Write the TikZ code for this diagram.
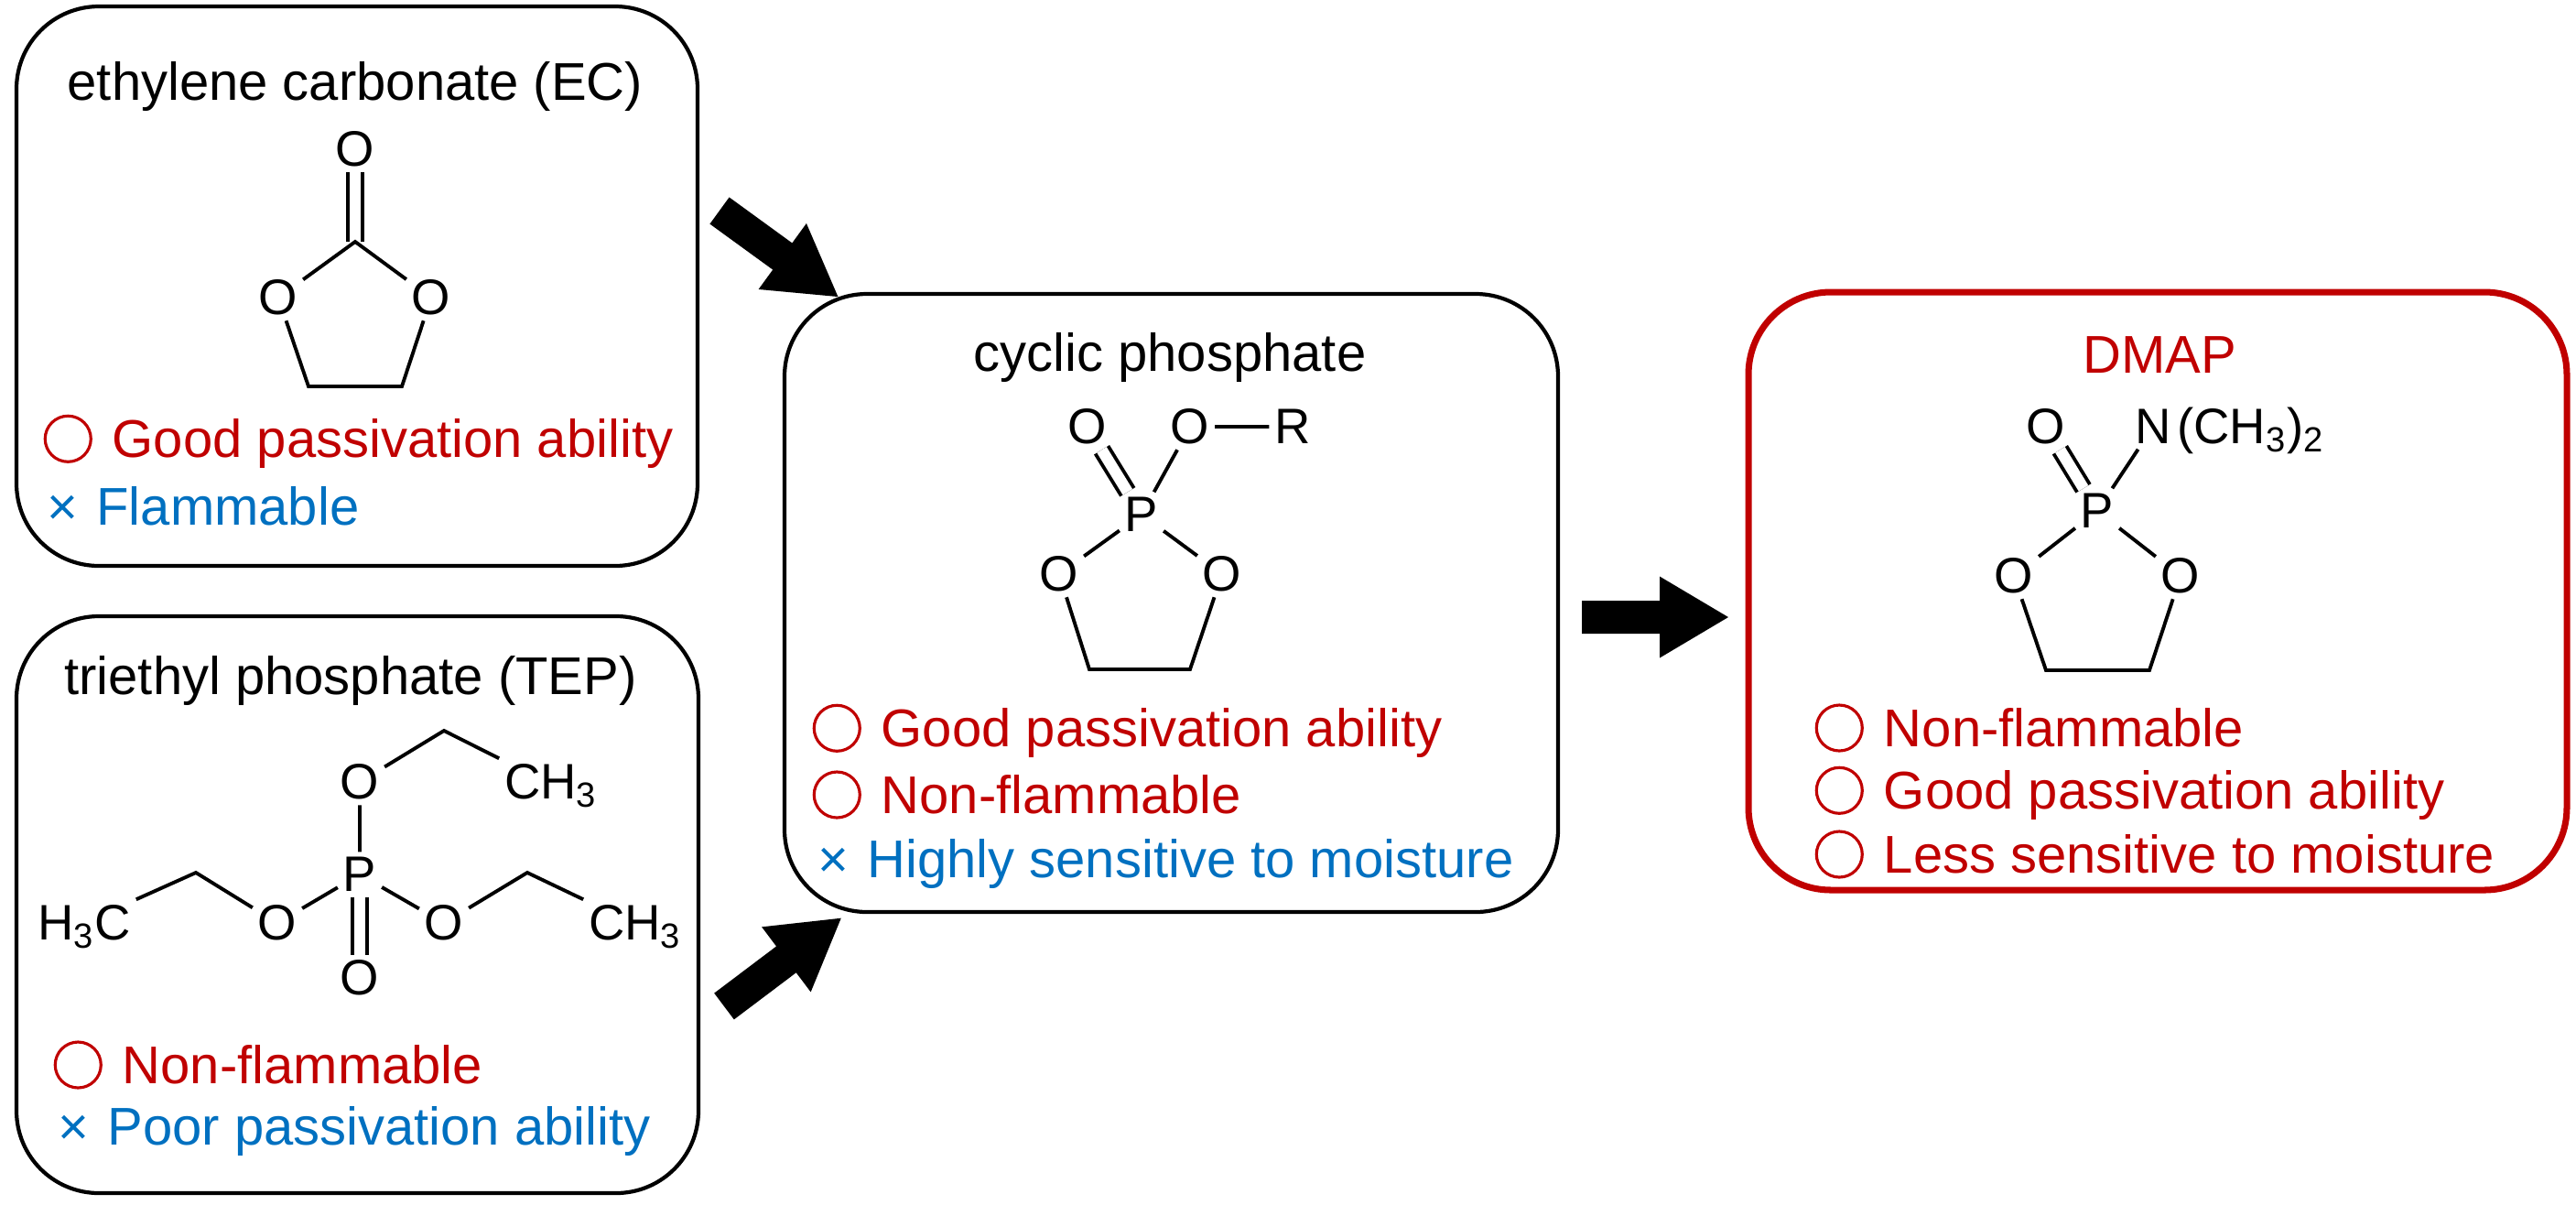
\documentclass[tikz,border=0pt]{standalone}
\usepackage{fontspec}
\setmainfont{Liberation Sans}
\usepackage{tikz}
\definecolor{okred}{RGB}{192,0,0}
\definecolor{ngblue}{RGB}{0,112,192}
\newcommand{\okmark}{\tikz[baseline={(0,-0.2)}]\draw[okred,line width=0.9pt] (0,0) circle (0.25);\hspace{0.22cm}}
\newcommand{\ngmark}{×\hspace{0.2cm}}
\newcommand{\sub}[1]{\textsubscript{#1}}

\begin{document}
\begin{tikzpicture}[
    box/.style={draw, line width=1.2pt, rounded corners=0.9cm},
    atom/.style={inner sep=1.5pt, font=\fontsize{15.5}{18}\selectfont},
    title/.style={font=\fontsize{16.5}{20}\selectfont},
    good/.style={anchor=west, text=okred, inner sep=0pt, font=\fontsize{16.5}{20}\selectfont},
    bad/.style={anchor=west, text=ngblue, inner sep=0pt, font=\fontsize{16.5}{20}\selectfont},
    bond/.style={line width=1.1pt},
    dbl/.style={double, double distance=3.5pt, line width=1.1pt},
    fat arrow/.pic={\fill (0,-0.18) -- (0.85,-0.18) -- (0.85,-0.445) -- (1.6,0)
      -- (0.85,0.445) -- (0.85,0.18) -- (0,0.18) -- cycle;}]
  \useasboundingbox (0,0) rectangle (28.14,-13.15);
  % boxes
  \draw[box] (0.18,-0.07) rectangle (7.62,-6.18);
  \draw[box] (0.18,-6.73) rectangle (7.63,-13.03);
  \draw[box] (8.57,-3.21) rectangle (17.02,-9.96);
  \draw[box, draw=okred, line width=2pt] (19.10,-3.19) rectangle (28.04,-9.72);
  % ethylene carbonate
  \node[title] (ect) at (3.88,-0.94) {ethylene carbonate (EC)};
  \node[atom] (eco) at (3.88,-1.63) {O};
  \coordinate (ecc) at (3.88,-2.64);
  \node[atom] (ecl) at (3.04,-3.25) {O};
  \node[atom] (ecr) at (4.71,-3.25) {O};
  \coordinate (ecbl) at (3.37,-4.22);
  \coordinate (ecbr) at (4.39,-4.22);
  \draw[dbl] (eco) -- (ecc);
  \draw[bond] (ecl) -- (ecc) -- (ecr);
  \draw[bond] (ecl) -- (ecbl) -- (ecbr) -- (ecr);
  \node[good] (ecg) at (0.47,-4.82) {\okmark Good passivation ability};
  \node[bad] (ecb) at (0.51,-5.53) {\ngmark Flammable};
  % triethyl phosphate
  \node[title] (tept) at (3.83,-7.43) {triethyl phosphate (TEP)};
  \node[atom] (tepp) at (3.93,-9.55) {P};
  \node[atom] (tepot) at (3.93,-8.54) {O};
  \coordinate (tepvt) at (4.85,-7.98);
  \node[atom] (tepct) at (6.02,-8.58) {CH\sub{3}};
  \node[atom] (tepol) at (3.03,-10.08) {O};
  \coordinate (tepvl) at (2.14,-9.53);
  \node[atom] (tepcl) at (0.92,-10.12) {H\sub{3}C};
  \node[atom] (tepor) at (4.85,-10.08) {O};
  \coordinate (tepvr) at (5.76,-9.53);
  \node[atom] (tepcr) at (6.94,-10.12) {CH\sub{3}};
  \node[atom] (tepob) at (3.93,-10.68) {O};
  \draw[bond] (tepp) -- (tepot) -- (tepvt) -- (tepct.north west);
  \draw[bond] (tepp) -- (tepol) -- (tepvl) -- (tepcl.north east);
  \draw[bond] (tepp) -- (tepor) -- (tepvr) -- (tepcr.north west);
  \draw[dbl] (tepp) -- (tepob);
  \node[good] (tepg) at (0.58,-11.63) {\okmark Non-flammable};
  \node[bad] (tepb) at (0.63,-12.35) {\ngmark Poor passivation ability};
  % cyclic phosphate
  \node[title] (cpt) at (12.78,-3.90) {cyclic phosphate};
  \node[atom] (cpo) at (11.88,-4.66) {O};
  \node[atom] (cpe) at (13.00,-4.66) {O};
  \node[atom] (cpr) at (14.12,-4.66) {R};
  \node[atom] (cpp) at (12.47,-5.62) {P};
  \node[atom] (cpl) at (11.57,-6.27) {O};
  \node[atom] (cpri) at (13.35,-6.27) {O};
  \coordinate (cpbl) at (11.90,-7.31);
  \coordinate (cpbr) at (13.00,-7.31);
  \draw[dbl] (cpp) -- (cpo);
  \draw[bond] (cpp) -- (cpe) -- (cpr);
  \draw[bond] (cpp) -- (cpl) -- (cpbl) -- (cpbr) -- (cpri) -- (cpp);
  \node[good] (cpg1) at (8.87,-7.98) {\okmark Good passivation ability};
  \node[good] (cpg2) at (8.87,-8.68) {\okmark Non-flammable};
  \node[bad] (cpb) at (8.93,-9.43) {\ngmark Highly sensitive to moisture};
  % DMAP
  \node[title, text=okred] (dmt) at (23.59,-3.88) {DMAP};
  \node[atom] (dmo) at (22.35,-4.66) {O};
  \node[atom] (dmn) at (23.52,-4.66) {N};
  \node[atom, anchor=base west, inner sep=0pt] at (dmn.base east) {(CH\sub{3})\sub{2}};
  \node[atom] (dmp) at (22.91,-5.58) {P};
  \node[atom] (dml) at (22.00,-6.29) {O};
  \node[atom] (dmr) at (23.82,-6.29) {O};
  \coordinate (dmbl) at (22.35,-7.32);
  \coordinate (dmbr) at (23.48,-7.32);
  \draw[dbl] (dmp) -- (dmo);
  \draw[bond] (dmp) -- (dmn);
  \draw[bond] (dmp) -- (dml) -- (dmbl) -- (dmbr) -- (dmr) -- (dmp);
  \node[good] (dmg1) at (19.82,-7.95) {\okmark Non-flammable};
  \node[good] (dmg2) at (19.82,-8.66) {\okmark Good passivation ability};
  \node[good] (dmg3) at (19.82,-9.33) {\okmark Less sensitive to moisture};
  % arrows
  \pic[rotate=-36] at (7.86,-2.30) {fat arrow};
  \pic[rotate=37] at (7.91,-10.99) {fat arrow};
  \pic at (17.28,-6.74) {fat arrow};
\end{tikzpicture}
\end{document}
